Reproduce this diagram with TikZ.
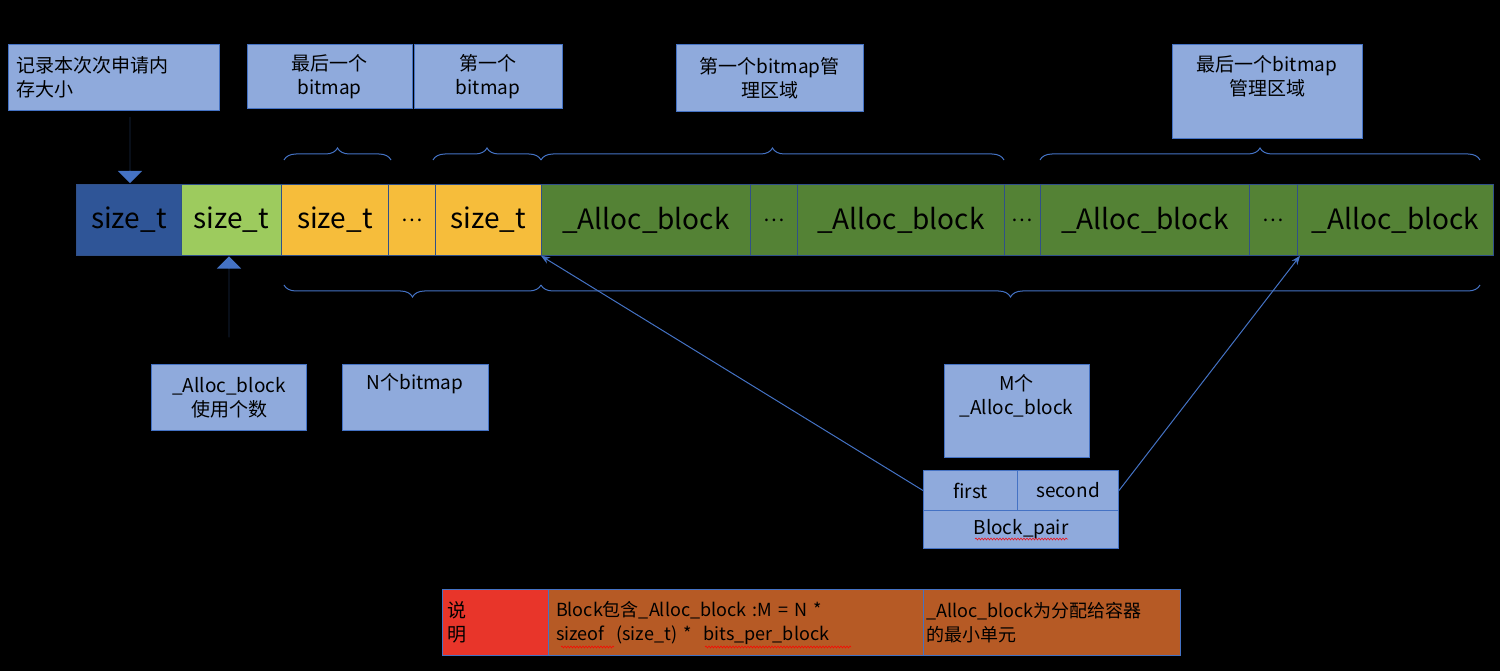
\documentclass[tikz,border=0pt]{standalone}
\usepackage{fontspec}
\setmainfont{Noto Sans CJK SC}
\usetikzlibrary{decorations.pathreplacing,shapes.arrows,arrows.meta,decorations.pathmorphing}
\definecolor{lb}{HTML}{8FAADC}
\definecolor{bd}{HTML}{4472C4}
\definecolor{db}{HTML}{2F5597}
\definecolor{lg}{HTML}{9DCB5E}
\definecolor{og}{HTML}{F6BD3B}
\definecolor{dg}{HTML}{548235}
\definecolor{rd}{HTML}{E8352A}
\definecolor{br}{HTML}{B65A25}
\begin{document}
\begin{tikzpicture}[x=1pt,y=-1pt,
 cell/.style={draw=bd!70!black,line width=0.8pt,minimum height=71pt,inner sep=0pt,font=\fontsize{28}{30}\selectfont,anchor=north west},
 lbl/.style={draw=bd,fill=lb,line width=1pt,inner sep=0pt,anchor=north west,font=\fontsize{19}{24}\selectfont,align=center},
 brc/.style={draw=bd,line width=1pt,decorate,decoration={brace,amplitude=12pt}},
 big/.style={fill=bd,draw=none,single arrow,single arrow head extend=12pt,single arrow tip angle=90,minimum width=24pt,inner sep=0pt},
 ln/.style={draw=bd,line width=1pt,-{Stealth[length=9pt,width=7pt]}},
 wavy/.style={draw=red,line width=0.5pt,decorate,decoration={snake,amplitude=1pt,segment length=3pt}}]
\fill[black] (0,0) rectangle (1500,671);
% bar
\node[cell,fill=db,minimum width=105pt] (c1) at (76,184) {size\_t};
\node[cell,fill=lg,minimum width=100pt] (c2) at (181,184) {size\_t};
\node[cell,fill=og,minimum width=107pt] (c3) at (281,184) {size\_t};
\node[cell,fill=og,minimum width=47pt] (c4) at (388,184) {\fontsize{20}{20}\selectfont ⋯};
\node[cell,fill=og,minimum width=106pt] (c5) at (435,184) {size\_t};
\node[cell,fill=dg,minimum width=209pt] (c6) at (541,184) {\_Alloc\_block};
\node[cell,fill=dg,minimum width=47pt] (c7) at (750,184) {\fontsize{20}{20}\selectfont ⋯};
\node[cell,fill=dg,minimum width=207pt] (c8) at (797,184) {\_Alloc\_block};
\node[cell,fill=dg,minimum width=36pt] (c9) at (1004,184) {\fontsize{20}{20}\selectfont ⋯};
\node[cell,fill=dg,minimum width=209pt] (c10) at (1040,184) {\_Alloc\_block};
\node[cell,fill=dg,minimum width=48pt] (c11) at (1249,184) {\fontsize{20}{20}\selectfont ⋯};
\node[cell,fill=dg,minimum width=196pt] (c12) at (1297,184) {\_Alloc\_block};
% top labels
\node[lbl,minimum width=211pt,minimum height=66pt,align=left,text width=195pt] (t1) at (8,44) {记录本次次申请内\\存大小};
\node[lbl,minimum width=165pt,minimum height=64pt,anchor=north,text width=160pt] (t2) at (329.5,44) {最后一个\\bitmap};
\node[lbl,minimum width=148pt,minimum height=64pt,anchor=north,text width=140pt] (t3) at (488,44) {第一个\\bitmap};
\node[lbl,minimum width=187pt,minimum height=67pt,anchor=north,text width=180pt] (t4) at (769.5,44) {第一个bitmap管\\理区域};
\node[draw=bd,fill=lb,line width=1pt,minimum width=190pt,minimum height=94pt,inner sep=0pt,anchor=north west] (t5) at (1172,44) {};
\node[font=\fontsize{19}{24}\selectfont,align=center,anchor=north] at (1267,52) {最后一个bitmap\\管理区域};
% top braces
\draw[brc] (284,160) -- (391,160);
\draw[brc] (433,160) -- (541,160);
\draw[brc] (541,160) -- (1004,160);
\draw[brc] (1040,160) -- (1480,160);
% bottom braces
\draw[brc,decoration={mirror}] (284,285) -- (541,285);
\draw[brc,decoration={mirror}] (541,285) -- (1480,285);
% big arrows
\node[big,rotate=-90,minimum height=66pt] (a1) at (130,150) {};
\node[big,rotate=90,minimum height=81pt] (a2) at (229,297) {};
% bottom labels
\node[lbl,minimum width=155pt,minimum height=66pt] (b1) at (151,364) {\_Alloc\_block\\使用个数};
\node[draw=bd,fill=lb,line width=1pt,minimum width=146pt,minimum height=66pt,inner sep=0pt,anchor=north west] (b2) at (342,364) {};
\node[font=\fontsize{19}{24}\selectfont,anchor=north] at (415,370) {N个bitmap};
\node[draw=bd,fill=lb,line width=1pt,minimum width=145pt,minimum height=93pt,inner sep=0pt,anchor=north west] (b3) at (944,364) {};
\node[font=\fontsize{19}{24}\selectfont,align=center,anchor=north] at (1016.5,371) {M个\\\_Alloc\_block};
% block pair
\node[lbl,minimum width=94pt,minimum height=40pt] (pf) at (923,470) {first};
\node[lbl,minimum width=101pt,minimum height=40pt] (ps) at (1017,470) {second};
\node[lbl,minimum width=195pt,minimum height=38pt] (pb) at (923,510) {Block\_pair};
\draw[wavy] (975,539) -- (1068,539);
\draw[ln] (pf.west) -- (c6.south west);
\draw[ln] (ps.east) -- ([xshift=3pt]c12.south west);
% legend
\node[draw=bd,fill=rd,line width=1pt,minimum width=106pt,minimum height=66pt,inner sep=0pt,anchor=north west,align=left,text width=96pt,font=\fontsize{19}{24}\selectfont] (l1) at (442,589) {说\\明};
\node[draw=bd,fill=br,line width=1pt,minimum width=375pt,minimum height=66pt,inner sep=0pt,anchor=north west,align=left,text width=360pt,font=\fontsize{18}{24}\selectfont] (l2) at (548,589) {Block包含\_Alloc\_block :M = N *\\sizeof\ \ (size\_t) *\ \ bits\_per\_block};
\node[draw=bd,fill=br,line width=1pt,minimum width=257pt,minimum height=66pt,inner sep=0pt,anchor=north west,align=left,text width=252pt,font=\fontsize{18}{24}\selectfont] (l3) at (923,589) {\_Alloc\_block为分配给容器\\的最小单元};
\draw[wavy] (561,647) -- (614,647);
\draw[wavy] (705,647) -- (851,647);
\end{tikzpicture}
\end{document}
